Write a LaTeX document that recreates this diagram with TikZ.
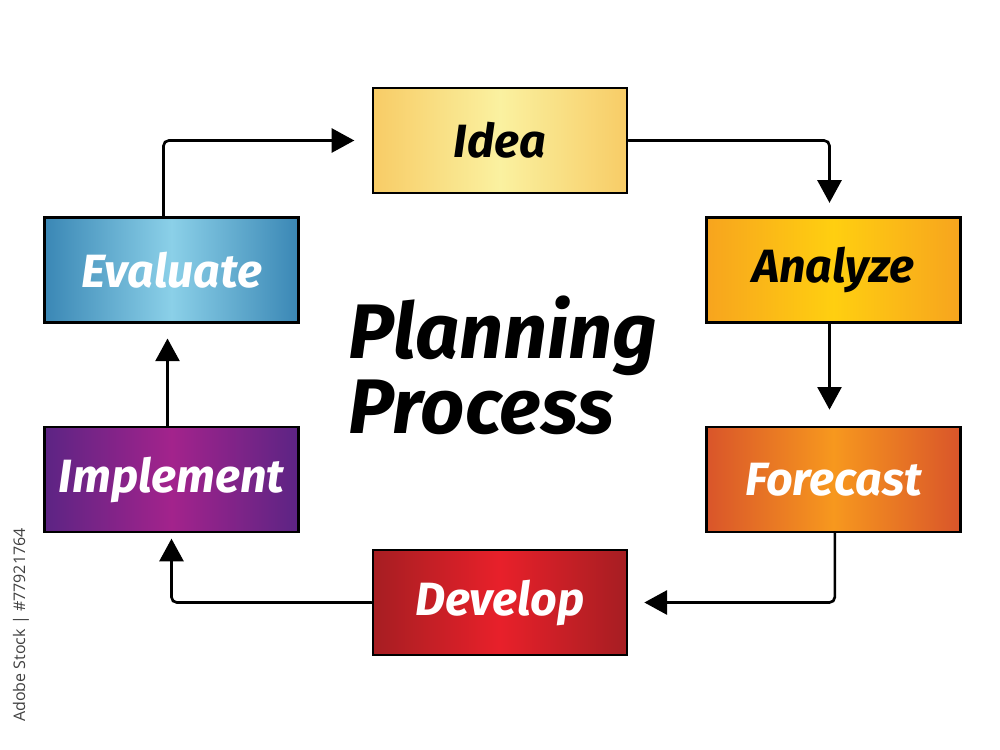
\documentclass[tikz,border=0pt]{standalone}
\usepackage{fontspec}
\newfontfamily\hand{Fira Sans}
\newfontfamily\wmfont{Open Sans}
\usetikzlibrary{arrows.meta}
\definecolor{ideaE}{HTML}{F8CC66}\definecolor{ideaC}{HTML}{FAF1A0}
\definecolor{anE}{HTML}{F7A41E}\definecolor{anC}{HTML}{FFCF10}
\definecolor{foE}{HTML}{D9552A}\definecolor{foC}{HTML}{F7981E}
\definecolor{deE}{HTML}{A61E22}\definecolor{deC}{HTML}{E8202A}
\definecolor{imE}{HTML}{5C2484}\definecolor{imC}{HTML}{A3238C}
\definecolor{evE}{HTML}{3A87B5}\definecolor{evC}{HTML}{8BD0E8}
\tikzset{
  box/.style 2 args={draw=black, line width=2pt, minimum width=190.5pt, minimum height=78.75pt,
    inner sep=0pt, left color=#1, right color=#1, middle color=#2,
    font=\hand\itshape\bfseries\fontsize{35}{40}\selectfont},
  conn/.style={line width=2pt, rounded corners=4pt, line cap=round,
    -{Triangle[length=17pt,width=18pt,fill=black]}},
}
\begin{document}
\begin{tikzpicture}[x=0.75pt,y=-0.75pt]
\useasboundingbox (0,0) rectangle (1000,750);
\fill[white] (0,0) rectangle (1000,750);
\node[box={ideaE}{ideaC}, text=black] (idea) at (500,140.5) {Idea};
\node[box={anE}{anC}, text=black] (an) at (833.5,270) {Analyze};
\node[box={foE}{foC}, text=white] (fo) at (833.5,479.5) {Forecast};
\node[box={deE}{deC}, text=white] (de) at (500,602.5) {Develop};
\node[box={imE}{imC}, text=white] (im) at (171.5,479.5) {Implement};
\node[box={evE}{evC}, text=white] (ev) at (171.5,270) {Evaluate};
\node[font=\hand\itshape\bfseries\fontsize{58}{56}\selectfont, align=left] (title) at (503,365) {Planning\\Process};
\node[rotate=90, text=black!75, font=\wmfont\fontsize{12}{14}\selectfont] (wm) at (21,625) {Adobe Stock | \#77921764};
\draw[conn, shorten >=13pt] ([xshift=-6pt]ev.north) |- (idea.west);
\draw[conn, shorten >=10pt] (idea.east) -| ([xshift=-3pt]an.north);
\draw[conn, shorten >=12pt] ([xshift=-3pt]an.south) -- ([xshift=-3pt]fo.north);
\draw[conn, shorten >=12pt] ([xshift=1pt]fo.south) |- (de.east);
\draw[conn, shorten >=4pt] (de.west) -| (im.south);
\draw[conn, shorten >=11pt] ([xshift=-3pt]im.north) -- ([xshift=-3pt]ev.south);
\end{tikzpicture}
\end{document}
